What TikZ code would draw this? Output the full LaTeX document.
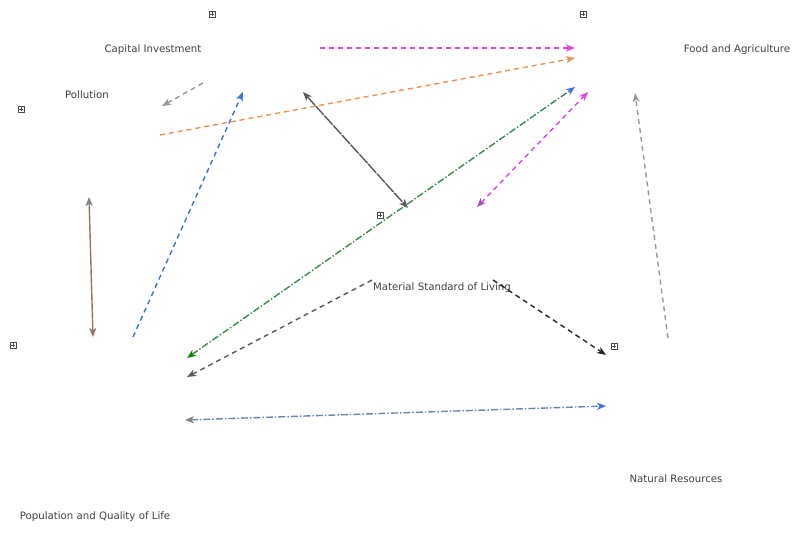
\documentclass[tikz,border=0pt]{standalone}
\usepackage{fontspec}
\setmainfont{DejaVu Sans}
\usetikzlibrary{arrows.meta}
\definecolor{mag}{HTML}{E040E8}
\definecolor{org}{HTML}{F0904A}
\definecolor{blu}{HTML}{3A70E0}
\definecolor{grn}{HTML}{3A8A50}
\definecolor{pur}{HTML}{A050B0}
\definecolor{brn}{HTML}{9A7060}
\definecolor{gbl}{HTML}{7080B8}
\begin{document}
\begin{tikzpicture}[x=1pt,y=-1pt,
  lbl/.style={font=\fontsize{10.2}{12}\selectfont,text=black!75,inner sep=0pt},
  ico/.style={draw=black!70,fill=white,minimum size=6pt,inner sep=0pt,line width=0.5pt,
    path picture={\draw[line width=0.5pt] (path picture bounding box.north) ++(0,-1.3pt) -- ++(0,-3.4pt);
    \draw[line width=0.5pt] (path picture bounding box.west) ++(1.3pt,0) -- ++(3.4pt,0);}},
  lk/.style={line width=1.4pt,dash pattern=on 5pt off 4pt,-{Stealth[length=9pt,width=7pt,inset=2.5pt]}},
  dl/.style={line width=1.4pt,dash pattern=on 7pt off 2pt on 1.5pt off 2pt}]
\useasboundingbox (0,0) rectangle (800,533);
\node[lbl] (ci) at (153,50) {Capital Investment};
\node[lbl] (fa) at (737,50) {Food and Agriculture};
\node[lbl] (po) at (87,95) {Pollution};
\node[lbl] (ms) at (442,288) {Material Standard of Living};
\node[lbl] (nr) at (676,479) {Natural Resources};
\node[lbl] (pq) at (95,517) {Population and Quality of Life};
\node[ico] (i1) at (212,14) {};
\node[ico] (i2) at (583,14) {};
\node[ico] (i3) at (21,109) {};
\node[ico] (i4) at (13,345) {};
\node[ico] (i5) at (380,215) {};
\node[ico] (i6) at (614,346) {};
\coordinate (a1) at (320,48); \coordinate (b1) at (575,48);
\coordinate (a2) at (160,135); \coordinate (b2) at (575,58);
\coordinate (a3) at (203,83); \coordinate (b3) at (162,106);
\coordinate (a4) at (133,337); \coordinate (b4) at (243,92);
\coordinate (a5) at (303,92); \coordinate (b5) at (408,208);
\coordinate (a6) at (187,358); \coordinate (b6) at (575,87);
\coordinate (a7) at (477,207); \coordinate (b7) at (588,92);
\coordinate (a8) at (668,338); \coordinate (b8) at (635,93);
\coordinate (a9) at (89,197); \coordinate (b9) at (93,337);
\coordinate (a10) at (372,280); \coordinate (b10) at (187,377);
\coordinate (a11) at (493,280); \coordinate (b11) at (606,355);
\coordinate (a12) at (185,420); \coordinate (b12) at (606,406);
\draw[lk,draw=mag] (a1) -- (b1);
\draw[lk,draw=org] (a2) -- (b2);
\draw[lk,draw=black!40] (a3) -- (b3);
\draw[lk,draw=blu] (a4) -- (b4);
\draw[line width=1.4pt,draw=black!65,dash pattern=on 12pt off 1pt,{Stealth[length=9pt,width=7pt,inset=2.5pt]}-{Stealth[length=9pt,width=7pt,inset=2.5pt]}] (a5) -- (b5);
\draw[dl,draw=grn,{Stealth[length=9pt,width=7pt,inset=2.5pt,color=green!55!black]}-{Stealth[length=9pt,width=7pt,inset=2.5pt,color=blu]}] (a6) -- (b6);
\draw[lk,draw=mag,{Stealth[length=9pt,width=7pt,inset=2.5pt,color=pur]}-{Stealth[length=9pt,width=7pt,inset=2.5pt]}] (a7) -- (b7);
\draw[lk,draw=black!40] (a8) -- (b8);
\draw[line width=1.4pt,draw=brn,{Stealth[length=9pt,width=7pt,inset=2.5pt,color=gray]}-{Stealth[length=9pt,width=7pt,inset=2.5pt]}] (a9) -- (b9);
\draw[lk,draw=black!65] (a10) -- (b10);
\draw[lk,draw=black!85] (a11) -- (b11);
\draw[dl,draw=gbl,{Stealth[length=9pt,width=7pt,inset=2.5pt,color=gray]}-{Stealth[length=9pt,width=7pt,inset=2.5pt,color=blu]}] (a12) -- (b12);
\end{tikzpicture}
\end{document}
